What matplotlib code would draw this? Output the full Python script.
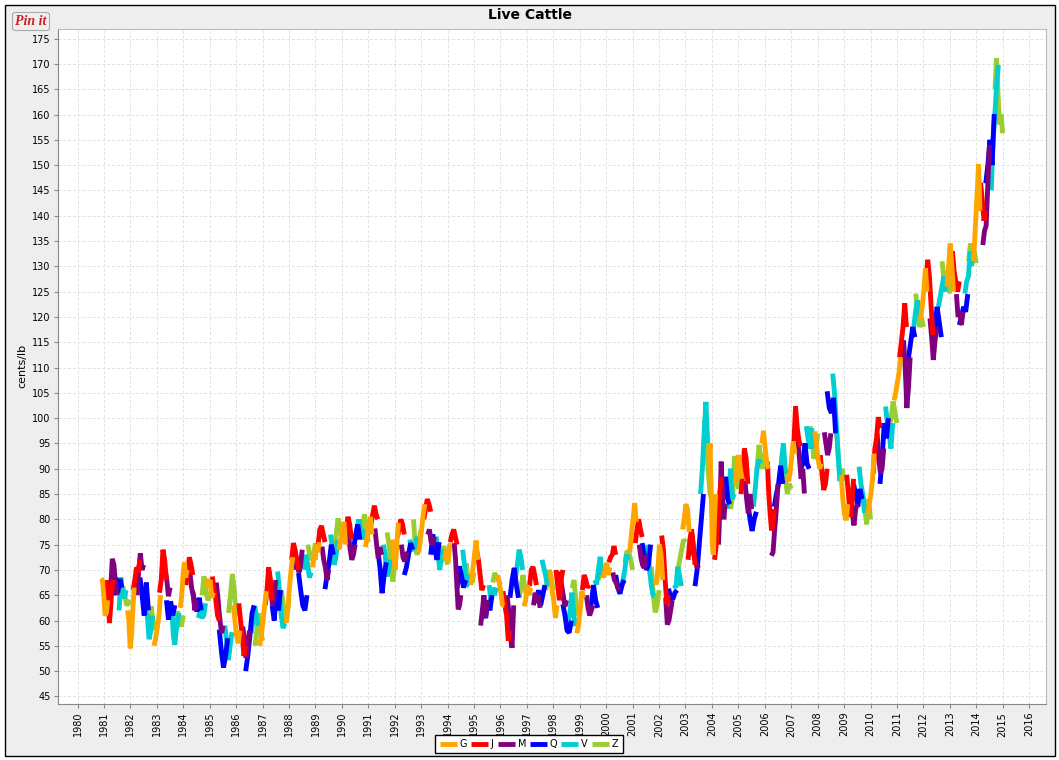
import numpy as np
from matplotlib import pyplot as plt
from matplotlib.patches import Rectangle, FancyBboxPatch

W, H = 1059, 760

years = list(range(1981, 2015))

# front month prices per contract, one list per contract year (1981..2014)
G_prices = [
    [68.3, 68, 65, 61, 61.5, 64], [62, 60, 54.5, 57, 62, 66.5], [55, 56.5, 58.5, 61, 65],
    [62.5, 65, 69, 71.5, 68.5, 70], [68.3, 66.5, 68, 64.5, 65.5], [63, 60, 57, 55.5, 58],
    [55, 57, 60, 63, 65.8], [59.5, 62, 66.5, 70, 72.5], [70.5, 73, 72, 75, 73.5, 75.5],
    [74, 76, 78, 79.5, 75], [74.5, 76.5, 79, 80.5, 77], [76, 74, 70, 75, 79.3],
    [73.5, 75, 78, 81, 83], [72, 74, 71.5, 75, 75], [67, 70, 73, 75.8, 72],
    [69, 67.5, 65.5, 63, 63], [62.8, 64, 67, 65, 66.5], [69.5, 66, 64, 60.5, 63],
    [57.5, 59, 62, 65.8, 64.5], [68.5, 70, 71.4, 69, 70.5], [73.5, 77, 80, 83.2, 79.5],
    [67, 70, 75, 73, 68], [78, 80, 83, 82, 77.5], [92, 95, 85, 75, 73, 80, 85],
    [87, 90, 92.7, 90, 88], [95, 97.5, 94, 91, 90], [87.4, 89, 92, 95.4, 93],
    [97.4, 95, 92, 90, 91], [88.8, 84, 81, 79.8, 83], [81, 83, 85, 88, 93],
    [103.5, 105, 107, 109, 112], [119.5, 122, 125, 129.6, 125], [126, 130, 134.5, 130, 125],
    [131, 135, 140, 145, 150.2, 141],
]
J_prices = [
    [68, 65, 59.5, 63, 67, 68], [66, 68, 70.5, 69.5, 72], [65.5, 68, 74, 72, 68],
    [67, 70, 72.5, 71, 69], [68.7, 66, 64, 61, 60], [63.4, 60, 57, 53, 55],
    [63, 66, 70.5, 68, 64], [72, 75.3, 74, 72, 70], [75, 78, 78.7, 77, 75.5],
    [75.5, 78, 80.5, 79, 76], [79, 81, 82.7, 81, 80], [76.5, 78, 80, 79, 77],
    [80, 82, 84, 83, 81.5], [75.5, 77, 78, 76.5, 75], [73.7, 72, 69, 66, 67],
    [65.8, 63, 61, 56, 58], [66.8, 70, 70.6, 69, 67], [70, 67, 64, 68, 70],
    [66, 69, 68, 66.5, 67], [71.5, 72.5, 73, 74.7, 73], [75.3, 78, 80, 78, 76.5],
    [76.8, 74, 68, 63.2, 65], [72, 76, 78, 75, 71], [72, 75, 80, 85, 88.4],
    [85, 89, 94, 92, 87], [91.4, 85, 81, 77.8, 79, 82], [95, 102.3, 98, 95.5, 94.4],
    [92.7, 89, 85.8, 87, 90], [88.8, 85, 80.5, 83, 88], [89, 94, 96, 100.2, 98],
    [112, 115, 118, 122.7, 118], [127, 131.3, 128, 122, 116.4], [133, 129, 127, 125, 127],
    [141, 146.5, 143, 139, 141],
]
M_prices = [
    [66, 72.2, 71, 67, 65], [65, 70, 73.3, 70, 71], [68.7, 70, 68, 64.8, 66.5],
    [69.4, 66.5, 65, 62, 64], [67.5, 65, 62, 59.5, 57.5, 59], [58.8, 56, 52.6, 54.5, 58],
    [69.7, 66, 63, 65, 68], [70, 72.5, 69.5, 71, 74], [74.6, 72, 70.5, 68, 70],
    [77.2, 74, 72, 73, 75], [78.2, 75, 72.3, 74.5, 73], [75, 72.5, 71.7, 73, 73.5],
    [77, 78, 75.5, 75, 76.5], [75.3, 72, 67, 62.2, 63, 65], [59, 62, 65, 60.5, 64],
    [65, 62, 57, 54.6, 63], [63, 65.5, 63.5, 65, 62.5], [69.7, 67, 65, 62.8, 64],
    [65, 62.5, 61, 62, 63], [69.5, 68, 67.5, 66.5, 66], [75, 72.5, 71, 70.4, 73],
    [64.5, 59.2, 60, 62, 64], [77, 73, 72, 70.4, 71], [75, 82, 91.4, 85, 80, 83],
    [87.6, 84, 81.2, 85, 82], [72.8, 73.5, 78, 82, 87], [95.7, 92, 88, 90, 85.1],
    [97.2, 95, 92.7, 94, 97], [83.5, 81, 78.8, 82, 83], [97, 92, 89.1, 90, 94],
    [115.4, 110, 102, 106, 112], [119.7, 116, 111.5, 115, 118], [124.5, 120, 121, 118.4, 121],
    [134.2, 137, 138, 146, 154],
]
Q_prices = [
    [65, 68.5, 65.5, 68.2, 66.5], [68.5, 65, 61, 67.5, 62], [64, 60.2, 63.8, 61, 63],
    [65.7, 63, 61.8, 64.5, 62], [58.2, 54, 50.7, 53, 56.5], [50, 53, 57, 61.4, 63],
    [63, 60, 66, 62, 66], [69.4, 66, 63, 62, 65], [66.2, 69, 71.5, 75, 73],
    [72.5, 74, 77, 79, 76], [74, 70.5, 65.4, 69, 71.5], [69, 70.5, 73, 75.3, 74],
    [73, 77, 74, 72, 75.5], [66.4, 70.7, 69, 66.5, 68], [62, 60.5, 64, 62, 65],
    [64.5, 68, 70.4, 67, 64.5], [64, 66, 63, 65, 67], [63.2, 61, 58, 57.6, 60],
    [61.8, 63.5, 67, 64, 62.5], [69, 66.5, 65.3, 67, 68], [75.3, 73, 70, 71, 75],
    [66.3, 64.5, 64.2, 65.5, 66], [66.8, 70, 75, 80, 85], [82.5, 85, 88.4, 84, 83],
    [83.5, 80, 77.7, 80, 81.5], [82.5, 85, 87, 90.6, 87], [90, 91, 95, 91, 90],
    [105.3, 102, 101, 104, 97], [87, 85, 82.5, 86, 84], [87, 92, 99, 96, 100],
    [109, 112, 115, 118, 116], [115.5, 118, 122, 119, 116], [118.4, 120, 122, 121, 124.5],
    [146.4, 150, 155, 150, 160.1],
]
V_prices = [
    [62, 68.5, 65, 64.5, 66], [62, 61, 56.3, 58, 61], [61.8, 57, 55.2, 58, 60, 61.5],
    [60.5, 62, 60.5, 61, 63.4], [59, 56, 52.2, 55, 57.7], [57.5, 60, 62.8, 60.5, 59],
    [69.7, 66, 61, 58.5, 59.5], [70, 73, 71, 68.5, 69.5], [77, 74.5, 71, 72.5, 76],
    [77, 80, 78, 76, 78], [75, 73, 68.7, 70, 72], [76, 73.7, 75, 74, 76.6],
    [76.6, 73, 70, 74, 72], [74, 71, 66.6, 69, 67], [67, 64, 66.5, 65, 66.5],
    [68.5, 71, 74, 72.5, 70], [72, 70.5, 69, 67, 68], [60, 62, 65.5, 61, 58.9],
    [68, 67.1, 70, 72.6, 69], [67, 68, 70, 73, 72], [75, 70, 67, 65, 64.8],
    [67, 66.5, 70.6, 69, 66.8], [85, 90, 97, 103.2, 95], [82.1, 84, 90, 84, 85],
    [82.5, 86, 90, 91.8, 91], [87, 92, 95, 90, 89], [98.4, 96, 94, 98, 94],
    [108.8, 105, 99, 93, 87.5], [90.4, 87, 85, 81.3, 83], [102.3, 99, 97, 94, 99],
    [116, 118, 121, 123.3, 120], [122, 124, 126, 128, 125], [124.6, 127, 128, 132.9, 130],
    [145, 155, 160, 166, 169.8],
]
Z_prices = [
    [66.7, 65, 63, 63.5, 64], [60.5, 62.8, 60, 58.2, 59.5], [59, 61.8, 60.5, 58.8, 61],
    [65, 68.7, 66, 64, 65], [61.5, 65, 69.2, 66, 61], [55, 58, 61.4, 58, 56],
    [66, 63, 60, 61.5, 64], [75, 73, 72, 73, 75.3], [75, 77, 80.2, 77, 78],
    [76, 79, 81, 78, 75.5], [77.4, 75, 71, 67.7, 71], [80, 74, 73, 76, 78],
    [70.7, 72, 74.7, 73, 71], [71.3, 67, 69, 67.5, 69.5], [67.5, 69.4, 68.5, 68, 67.1],
    [64.5, 67, 69, 66, 65], [66, 68, 70, 68, 66], [66.4, 68, 64, 61, 62],
    [68, 71, 68.5, 69.5, 69], [71.5, 73.7, 73.5, 72, 70], [70.6, 65, 61.6, 63, 66],
    [70, 72, 74, 76, 75.5], [99.7, 95, 90, 85, 84], [82, 85, 92.5, 90, 86],
    [90, 94.7, 92, 90, 93], [91.8, 88, 85, 87, 86], [98.4, 96, 92, 93, 97],
    [98, 92, 88, 90, 87.5], [85, 82, 79, 84, 80], [98.4, 100, 103.3, 101, 99],
    [124.6, 121, 118, 120, 118], [131, 127, 125, 129, 124.6], [131, 134.5, 132, 133, 130.6],
    [165, 171.1, 164, 158, 160, 156.3],
]

names = ['G', 'J', 'M', 'Q', 'V', 'Z']
prices = [G_prices, J_prices, M_prices, Q_prices, V_prices, Z_prices]
colors = ['#ffa500', '#ff0000', '#800080', '#0000ff', '#00ced1', '#9acd32']
# part of the year each contract is shown for
windows = [(-0.11, 0.14), (0.10, 0.36), (0.25, 0.50), (0.36, 0.68), (0.57, 0.84), (0.71, 1.0)]

fig = plt.figure(figsize=(W / 100, H / 100), dpi=100, facecolor='white')
fig.add_artist(Rectangle((4.5 / W, 1 - 755.5 / H), 1050 / W, 751 / H, transform=fig.transFigure,
                         facecolor='#eeeeee', edgecolor='black', lw=1, zorder=-5))

ax = fig.add_axes([57.5 / W, 1 - 703.5 / H, 988.5 / W, 675 / H])
ax.set_facecolor('white')

for i in range(len(names)):
    start, end = windows[i]
    for year, vals in zip(years, prices[i]):
        x = np.linspace(year + start, year + end, len(vals))
        label = names[i] if year == years[0] else None
        # first contract ends up on top
        ax.plot(x, vals, color=colors[i], lw=3.5, solid_joinstyle='bevel',
                solid_capstyle='butt', zorder=10 - i, label=label)

ax.set_xlim(1979.24, 2016.64)
ax.set_ylim(43.6, 177)
ax.set_xticks(range(1980, 2017))
ax.set_yticks(range(45, 176, 5))
ax.tick_params(axis='x', labelrotation=90, labelsize=7, length=3, color='#888888', pad=3)
ax.tick_params(axis='y', labelsize=7, length=3, color='#888888', pad=2)
ax.grid(True, color='#e2e2e2', ls='--', lw=0.7, dashes=(3, 2))
ax.set_axisbelow(True)
for s in ['top', 'right']:
    ax.spines[s].set_color('#bbbbbb')
for s in ['left', 'bottom']:
    ax.spines[s].set_color('#888888')

ax.set_ylabel('cents/lb', fontsize=8)
ax.yaxis.set_label_coords(27 / W, 1 - 366 / H, transform=fig.transFigure)

fig.text(530 / W, 1 - 15 / H, 'Live Cattle', ha='center', va='center', fontsize=10, fontweight='bold')

# Pin it button
fig.add_artist(FancyBboxPatch((12.5 / W, 1 - 30.5 / H), 37 / W, 18 / H, transform=fig.transFigure,
                              boxstyle='round,pad=0,rounding_size=0.003', facecolor='#f0eeee',
                              edgecolor='#aaaaaa', lw=0.8))
fig.text(31 / W, 1 - 21.5 / H, 'Pin it', ha='center', va='center', color='#cb2027', fontsize=10,
         family='Liberation Serif', style='italic', fontweight='bold')

leg = fig.legend(loc='center', bbox_to_anchor=(529 / W, 1 - 744 / H), ncol=6, fontsize=7,
                 fancybox=False, framealpha=1, edgecolor='black', handlelength=1.75,
                 handletextpad=0.3, columnspacing=0.4, borderpad=0.45, borderaxespad=0)
leg.get_frame().set_linewidth(1)

plt.savefig('out.png', dpi=100, facecolor=fig.get_facecolor())
